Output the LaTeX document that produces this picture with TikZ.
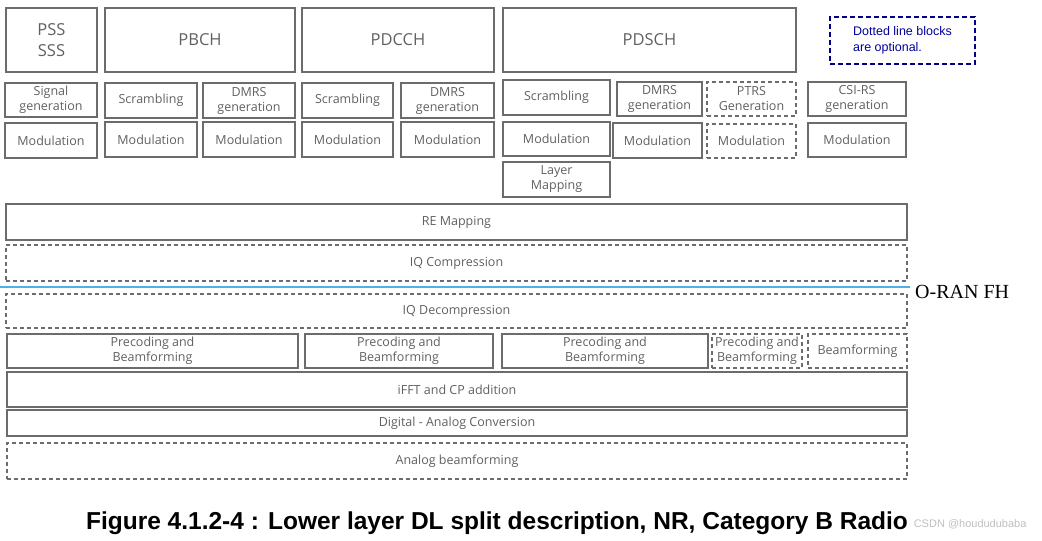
\documentclass[tikz,border=0pt]{standalone}
\usepackage{fontspec}
\setmainfont{Open Sans}
\newfontfamily\capfont{Liberation Sans}
\newfontfamily\serfont{Liberation Serif}
\begin{document}
\begin{tikzpicture}[x=1pt,y=-1pt,
  bx/.style={draw=gray!85!black,line width=1.2pt,text=gray!75!black,font=\fontsize{12.5}{15}\selectfont,align=center,inner sep=0pt},
  opt/.style={bx,dashed,dash pattern=on 4pt off 3pt},
  big/.style={font=\fontsize{16.5}{21}\selectfont}]
\useasboundingbox (0,0) rectangle (1042,541);
% top
\node[bx,big,minimum width=91,minimum height=64] (pss) at (51.5,40) {PSS\\SSS};
\node[bx,big,minimum width=190,minimum height=64] (pbch) at (200,40) {PBCH};
\node[bx,big,minimum width=192,minimum height=64] (pdcch) at (398,40) {PDCCH};
\node[bx,big,minimum width=293,minimum height=64] (pdsch) at (649.5,40) {PDSCH};
\node[draw=blue!55!black,line width=1.3pt,dashed,dash pattern=on 5pt off 3pt,minimum width=145,minimum height=47,text=blue!60!black,font=\capfont\fontsize{12.5}{16}\selectfont,align=left] (leg) at (902.5,40.5) {Dotted line blocks\\are optional.};
% row 2
\node[bx,minimum width=92,minimum height=34] (sg) at (51,100) {Signal\\generation};
\node[bx,minimum width=92,minimum height=35] (s1) at (151,100.5) {Scrambling};
\node[bx,minimum width=92,minimum height=35] (d1) at (249,100.5) {DMRS\\generation};
\node[bx,minimum width=91,minimum height=35] (s2) at (347.5,100.5) {Scrambling};
\node[bx,minimum width=93,minimum height=35] (d2) at (447.5,100.5) {DMRS\\generation};
\node[bx,minimum width=107,minimum height=35] (s3) at (556.5,97.5) {Scrambling};
\node[bx,minimum width=85,minimum height=34] (d3) at (659.5,99) {DMRS\\generation};
\node[opt,minimum width=89,minimum height=34] (pt) at (751.5,99) {PTRS\\Generation};
\node[bx,minimum width=98,minimum height=34] (csi) at (857,99) {CSI-RS\\generation};
% row 3
\node[bx,minimum width=92,minimum height=35] (m1) at (51,140.5) {Modulation};
\node[bx,minimum width=92,minimum height=35] (m2) at (151,139.5) {Modulation};
\node[bx,minimum width=92,minimum height=35] (m3) at (249,139.5) {Modulation};
\node[bx,minimum width=91,minimum height=35] (m4) at (347.5,139.5) {Modulation};
\node[bx,minimum width=93,minimum height=35] (m5) at (447.5,139.5) {Modulation};
\node[bx,minimum width=107,minimum height=34] (m6) at (556.5,139) {Modulation};
\node[bx,minimum width=89,minimum height=35] (m7) at (657.5,140.5) {Modulation};
\node[opt,minimum width=89,minimum height=34] (m8) at (751.5,141) {Modulation};
\node[bx,minimum width=98,minimum height=34] (m9) at (857,140) {Modulation};
\node[bx,minimum width=107,minimum height=35] (lm) at (556.5,179.5) {Layer\\Mapping};
% wide rows
\node[bx,minimum width=901,minimum height=36] (re) at (456.5,222) {RE Mapping};
\node[opt,minimum width=901,minimum height=36] (iqc) at (456.5,263) {IQ Compression};
\draw[cyan!80!blue!70,line width=2pt] (0,287) -- (910,287);
\node[anchor=west,font=\serfont\fontsize{20}{24}\selectfont,inner sep=0pt] (fh) at (915,292) {O-RAN FH};
\node[opt,minimum width=901,minimum height=34] (iqd) at (456.5,311) {IQ Decompression};
\node[bx,minimum width=291,minimum height=34] (p1) at (152.5,351) {Precoding and\\Beamforming};
\node[bx,minimum width=188,minimum height=34] (p2) at (399,351) {Precoding and\\Beamforming};
\node[bx,minimum width=206,minimum height=34] (p3) at (605,351) {Precoding and\\Beamforming};
\node[opt,minimum width=90,minimum height=34] (p4) at (757,351) {Precoding and\\Beamforming};
\node[opt,minimum width=99,minimum height=34] (p5) at (857.5,351) {Beamforming};
\node[bx,minimum width=900,minimum height=35] (ifft) at (457,389.5) {iFFT and CP addition};
\node[bx,minimum width=900,minimum height=26] (dac) at (457,423) {Digital - Analog Conversion};
\node[opt,minimum width=900,minimum height=36] (abf) at (457,461) {Analog beamforming};
\node[font=\capfont\bfseries\fontsize{24.5}{28}\selectfont] (cap) at (497,523) {Figure 4.1.2-4 : Lower layer DL split description, NR, Category B Radio};
\node[anchor=east,font=\capfont\fontsize{11}{12}\selectfont,text=gray!50] (wm) at (1030,524) {CSDN @hoududubaba};
\end{tikzpicture}
\end{document}
